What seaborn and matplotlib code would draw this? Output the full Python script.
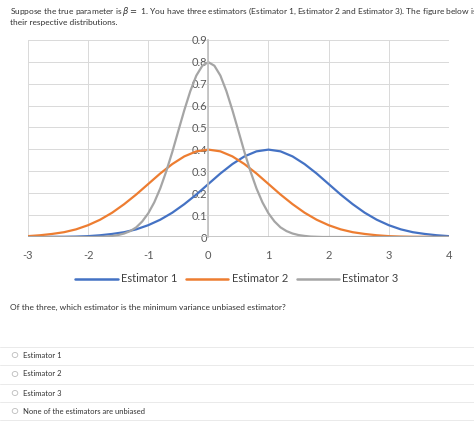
import matplotlib

matplotlib.use("Agg")
import matplotlib.pyplot as plt
from matplotlib.lines import Line2D
from matplotlib.patches import Circle
import pandas as pd
import seaborn as sns

X_VALUES = [-3.0, -2.8, -2.6, -2.4, -2.2, -2.0, -1.8, -1.6, -1.4, -1.2, -1.0, -0.8,
            -0.6, -0.4, -0.2, 0.0, 0.2, 0.4, 0.6, 0.8, 1.0, 1.2, 1.4, 1.6,
            1.8, 2.0, 2.2, 2.4, 2.6, 2.8, 3.0, 3.2, 3.4, 3.6, 3.8, 4.0]
EST1 = [0.0, 0.0, 0.001, 0.001, 0.002, 0.004, 0.008, 0.014, 0.022, 0.035, 0.054, 0.079,
        0.111, 0.150, 0.194, 0.242, 0.290, 0.333, 0.368, 0.391, 0.399, 0.391, 0.368, 0.333,
        0.290, 0.242, 0.194, 0.150, 0.111, 0.079, 0.054, 0.035, 0.022, 0.014, 0.008, 0.004]
EST2 = [0.004, 0.008, 0.014, 0.022, 0.035, 0.054, 0.079, 0.111, 0.150, 0.194, 0.242, 0.290,
        0.333, 0.368, 0.391, 0.399, 0.391, 0.368, 0.333, 0.290, 0.242, 0.194, 0.150, 0.111,
        0.079, 0.054, 0.035, 0.022, 0.014, 0.008, 0.004, 0.002, 0.001, 0.001, 0.0, 0.0]
# Estimator 3 is narrow, so it is read at a finer spacing
X3_VALUES = [-3.0, -2.0, -1.9, -1.8, -1.7, -1.6, -1.5, -1.4, -1.3, -1.2, -1.1, -1.0,
             -0.9, -0.8, -0.7, -0.6, -0.5, -0.4, -0.3, -0.2, -0.1, 0.0, 0.1, 0.2,
             0.3, 0.4, 0.5, 0.6, 0.7, 0.8, 0.9, 1.0, 1.1, 1.2, 1.3, 1.4,
             1.5, 1.6, 1.7, 1.8, 1.9, 2.0, 4.0]
EST3 = [0.0, 0.0, 0.0, 0.001, 0.002, 0.005, 0.009, 0.016, 0.027, 0.044, 0.071, 0.108,
        0.158, 0.222, 0.300, 0.388, 0.484, 0.579, 0.666, 0.737, 0.782, 0.798, 0.782, 0.737,
        0.666, 0.579, 0.484, 0.388, 0.300, 0.222, 0.158, 0.108, 0.071, 0.044, 0.027, 0.016,
        0.009, 0.005, 0.002, 0.001, 0.0, 0.0, 0.0]
SERIES = ["Estimator 1", "Estimator 2", "Estimator 3"]
COLORS = {"Estimator 1": "#4472C4", "Estimator 2": "#ED7D31", "Estimator 3": "#A5A5A5"}
X_TICKS = [-3, -2, -1, 0, 1, 2, 3, 4]
Y_TICKS = [0, 0.1, 0.2, 0.3, 0.4, 0.5, 0.6, 0.7, 0.8, 0.9]
OPTIONS = ["Estimator 1", "Estimator 2", "Estimator 3", "None of the estimators are unbiased"]

sns.set_theme(style="white")
plt.rcParams["font.family"] = ["Lato", "DejaVu Sans"]

df = pd.concat([
    pd.DataFrame({"x": X_VALUES, "density": EST1, "series": "Estimator 1"}),
    pd.DataFrame({"x": X_VALUES, "density": EST2, "series": "Estimator 2"}),
    pd.DataFrame({"x": X3_VALUES, "density": EST3, "series": "Estimator 3"}),
])

fig = plt.figure(figsize=(4.74, 4.24), dpi=100)
fig.patch.set_facecolor("white")
ax = fig.add_axes([0.059, 0.441, 0.888, 0.465])

sns.lineplot(data=df, x="x", y="density", hue="series", hue_order=SERIES,
             palette=COLORS, linewidth=1.6, ax=ax, legend=False)

ax.set_xlim(-3, 4)
ax.set_ylim(0, 0.9)
ax.set_xticks(X_TICKS)
ax.set_yticks(Y_TICKS)
ax.set_xticklabels([str(t) for t in X_TICKS])
ax.set_yticklabels([f"{t:g}" for t in Y_TICKS])
ax.grid(True, color="#D9D9D9", linewidth=0.7)
ax.set_axisbelow(True)
for side in ["top", "right", "bottom"]:
    ax.spines[side].set_visible(False)
ax.spines["left"].set_position(("data", 0))
ax.spines["left"].set_color("#BFBFBF")
ax.spines["left"].set_linewidth(1.2)
ax.axhline(0, color="#BFBFBF", linewidth=1.2, zorder=1)
ax.tick_params(axis="both", length=0, labelsize=8, colors="#595959")
ax.tick_params(axis="x", pad=9)
ax.tick_params(axis="y", pad=1)
ax.set_xlabel("")
ax.set_ylabel("")

handles = [Line2D([0], [0], color=COLORS[s], linewidth=1.8) for s in SERIES]
fig.legend(handles, SERIES, loc="center", bbox_to_anchor=(0.5, 0.342), ncol=3,
           frameon=False, fontsize=8, handlelength=3.8, columnspacing=0.8,
           handletextpad=0.3, labelcolor="#404040")

fig.text(0.021, 0.972, "Suppose the true parameter is $\\beta =$ 1. You have three estimators "
         "(Estimator 1, Estimator 2 and Estimator 3). The figure below is the",
         fontsize=6.0, color="#333333", va="center")
fig.text(0.021, 0.946, "their respective distributions.", fontsize=6.0, color="#333333", va="center")
fig.text(0.021, 0.276, "Of the three, which estimator is the minimum variance unbiased estimator?",
         fontsize=6.0, color="#333333", va="center")

opt_y = [355, 374, 393, 411]
sep_y = [347, 365, 384, 402, 420]
for y in sep_y:
    fig.add_artist(Line2D([0.0, 1.0], [1 - y / 424] * 2, color="#E6E6E6", linewidth=0.6))
for label, y in zip(OPTIONS, opt_y):
    yf = 1 - y / 424
    fig.add_artist(Circle((15 / 474, yf), 2.8 / 474, transform=fig.transFigure,
                          facecolor="white", edgecolor="#BBBBBB", linewidth=0.6))
    fig.text(23 / 474, yf, label, fontsize=5.5, color="#333333", va="center")

fig.savefig("out.png", dpi=100)
